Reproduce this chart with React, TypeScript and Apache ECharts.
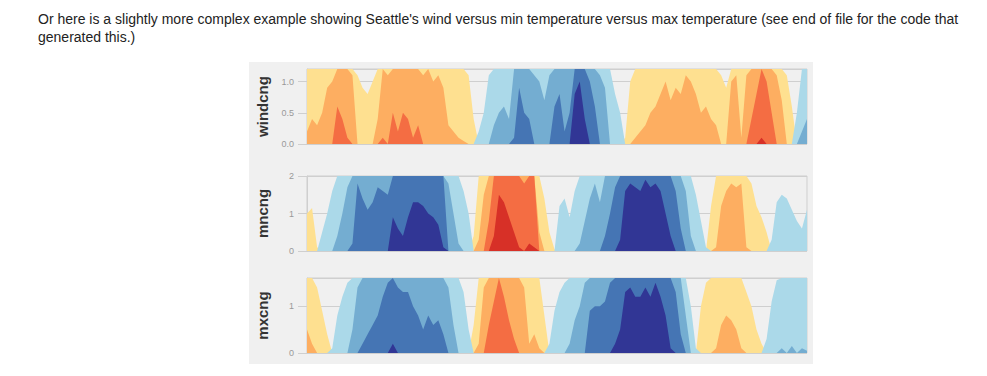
import React, { useEffect, useRef } from "react";
import * as echarts from "echarts";

const introLine1 =
  "Or here is a slightly more complex example showing Seattle's wind versus min temperature versus max temperature (see end of file for the code that";
const introLine2 = "generated this.)";

const panelNames = ["windcng", "mncng", "mxcng"];
const bandSizes = [1.2, 2, 1.6];
const tickIntervals = [0.5, 1, 1];

const windcng = [
  1.4, 1.6, 1.5, 1.7, 2.1, 2.2, 3.0, 2.8, 2.5, 2.3,
  1.1, 0.9, 0.8, 1.0, 1.6, 2.5, 2.3, 2.9, 2.6, 2.9,
  2.8, 2.5, 2.7, 2.3, 2.4, 2.2, 2.3, 2.1, 1.5, 1.4,
  1.3, 1.25, 1.1, 0.4, -0.2, -0.5, -1.1, -1.5, -1.7, -1.8,
  -1.6, -2.5, -3.3, -2.9, -2.8, -2.3, -2.2, -1.9, -2.3, -3.0,
  -3.2, -2.6, -2.9, -4.4, -4.6, -4.0, -3.4, -3.0, -2.3, -2.1,
  -1.2, -0.8, -0.5, 0.1, 1.0, 1.3, 1.4, 1.5, 1.7, 1.8,
  2.0, 2.2, 1.9, 2.1, 2.0, 2.3, 2.2, 2.0, 1.7, 1.8,
  1.6, 1.5, 1.1, 0.9, 2.2, 2.3, 1.3, 2.3, 2.8, 3.2,
  3.7, 3.4, 2.9, 2.3, 1.9, 1.1, 0.6, -0.5, -1.4, -1.6,
];

const mncng = [
  1.0, 1.15, 0.1, -0.5, -1.0, -1.6, -2.4, -3.0, -3.7, -4.2,
  -5.8, -5.4, -5.1, -5.3, -5.7, -5.6, -5.5, -6.9, -6.6, -6.4,
  -6.9, -7.3, -7.3, -7.2, -7.0, -6.9, -6.7, -6.1, -3.8, -3.0,
  -2.2, -1.6, -1.0, 0.4, 2.3, 3.5, 4.8, 6.4, 7.5, 7.3,
  6.9, 6.5, 6.1, 5.8, 6.2, 6.1, 2.5, 1.4, 0.5, 0.05,
  -1.2, -1.4, -0.9, -1.6, -2.2, -2.8, -3.4, -3.8, -3.3, -4.4,
  -5.0, -5.7, -6.3, -7.6, -7.8, -7.7, -7.6, -7.9, -7.7, -7.8,
  -7.6, -7.0, -6.4, -5.6, -4.6, -3.6, -2.4, -1.5, -0.8, -0.1,
  1.2, 2.1, 3.2, 3.6, 3.8, 3.7, 3.8, 2.1, 1.8, 1.2,
  0.9, 0.5, -0.3, -1.3, -1.5, -1.4, -1.1, -0.8, -0.6, -1.1,
];

const mxcng = [
  2.1, 1.8, 1.4, 0.9, 0.4, -0.1, -0.8, -1.2, -1.5, -2.1,
  -3.0, -3.4, -3.6, -3.8, -4.0, -4.4, -4.7, -5.0, -4.6, -4.5,
  -4.5, -4.2, -4.0, -3.7, -4.0, -3.8, -3.9, -3.6, -3.0, -2.2,
  -1.6, -1.3, -0.5, 0.6, 1.8, 3.0, 3.8, 4.3, 4.8, 4.4,
  3.9, 3.5, 3.2, 3.0, 1.8, 2.0, 1.7, 0.8, -0.2, -0.9,
  -1.3, -1.5, -1.8, -2.3, -2.6, -3.1, -4.1, -4.2, -4.2, -4.3,
  -4.7, -5.0, -5.3, -6.1, -6.2, -6.0, -6.0, -6.2, -6.0, -6.3,
  -6.0, -5.6, -4.9, -4.5, -3.6, -2.4, -1.0, -0.1, 1.0, 1.5,
  1.6, 1.7, 2.2, 2.4, 2.3, 2.1, 1.7, 1.3, 1.0, 0.5,
  0.2, -0.3, -1.1, -1.55, -1.7, -1.6, -1.75, -1.6, -1.7, -1.65,
];

const panelData = [windcng, mncng, mxcng];
const days = windcng.map((_, i) => String(i + 1));

const warmColors = ["#fee090", "#fdae61", "#f46d43", "#d73027"];
const coolColors = ["#abd9e9", "#74add1", "#4575b4", "#313695"];

const gridTops = [69, 176, 278];
const gridHeight = 75;

function bandValues(values: number[], band: number, k: number, sign: number) {
  return values.map((v) => {
    if (v * sign <= 0) return 0;
    const a = Math.abs(v) - k * band;
    return Math.max(0, Math.min(band, a));
  });
}

export default function App() {
  const ref = useRef<HTMLDivElement>(null);

  useEffect(() => {
    if (!ref.current) return;
    const chart = echarts.init(ref.current, undefined, { renderer: "svg" });

    const grids: any[] = [];
    const xAxes: any[] = [];
    const yAxes: any[] = [];
    const series: any[] = [];

    panelData.forEach((vals, g) => {
      const B = bandSizes[g];
      grids.push({
        left: 307,
        width: 500,
        top: gridTops[g],
        height: gridHeight,
        show: true,
        backgroundColor: "#f0f0f0",
        borderColor: "#cfcfcf",
        borderWidth: 1,
      });
      xAxes.push({
        type: "category",
        gridIndex: g,
        data: days,
        boundaryGap: false,
        axisLine: { show: false },
        axisTick: { show: false },
        axisLabel: { show: false },
        splitLine: { show: false },
      });
      yAxes.push({
        type: "value",
        gridIndex: g,
        min: 0,
        max: B,
        interval: tickIntervals[g],
        name: panelNames[g],
        nameLocation: "middle",
        nameGap: 37,
        nameRotate: 90,
        nameTextStyle: {
          fontFamily: "Liberation Sans, Arial, sans-serif",
          fontWeight: "bold",
          fontSize: 15,
          color: "#333",
        },
        axisLine: { show: true, lineStyle: { color: "#cfcfcf" } },
        axisTick: { show: true, length: 9, lineStyle: { color: "#cfcfcf" } },
        axisLabel: {
          margin: 13,
          fontSize: 9,
          color: "#999",
          fontFamily: "Liberation Sans, Arial, sans-serif",
          showMaxLabel: g === 1,
          formatter: (v: number) => (g === 0 ? v.toFixed(1) : String(Math.round(v))),
        },
        splitLine: { show: true, lineStyle: { color: "#cfcfcf", width: 1 } },
      });
      for (let k = 0; k < 4; k++) {
        [1, -1].forEach((sign) => {
          const color = sign > 0 ? warmColors[k] : coolColors[k];
          series.push({
            type: "line",
            xAxisIndex: g,
            yAxisIndex: g,
            data: bandValues(vals, B, k, sign),
            symbol: "none",
            showSymbol: false,
            lineStyle: { width: 0, opacity: 0 },
            areaStyle: { color, opacity: 1 },
            silent: true,
          });
        });
      }
    });

    chart.setOption({
      animation: false,
      backgroundColor: "#ffffff",
      graphic: [
        {
          type: "rect",
          shape: { x: 249, y: 62, width: 564, height: 302 },
          style: { fill: "#f0f0f0" },
          z: -10,
          silent: true,
        },
        {
          type: "text",
          x: 38,
          y: 12,
          style: {
            text: introLine1,
            fontFamily: "Liberation Sans, Arial, sans-serif",
            fontSize: 14,
            fill: "#222",
          },
        },
        {
          type: "text",
          x: 38,
          y: 30,
          style: {
            text: introLine2,
            fontFamily: "Liberation Sans, Arial, sans-serif",
            fontSize: 14,
            fill: "#222",
          },
        },
      ],
      grid: grids,
      xAxis: xAxes,
      yAxis: yAxes,
      series,
    });

    return () => chart.dispose();
  }, []);

  return (
    <div
      ref={ref}
      style={{ position: "absolute", left: 0, top: 0, width: 987, height: 376 }}
    />
  );
}
